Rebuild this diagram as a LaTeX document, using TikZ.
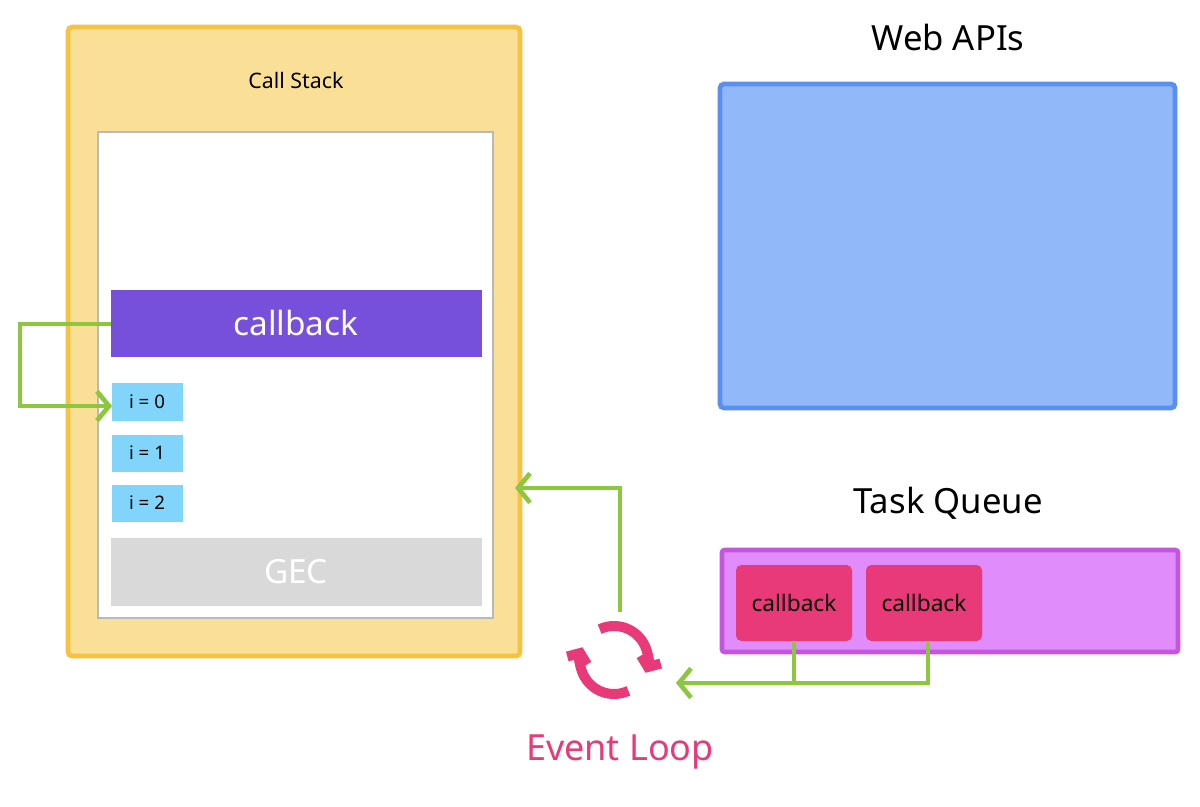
\documentclass[tikz,border=0pt]{standalone}
\usepackage{fontspec}
\setmainfont{Noto Sans}
\usetikzlibrary{arrows.meta}
\definecolor{csfill}{HTML}{FADF96}
\definecolor{csdraw}{HTML}{F5C242}
\definecolor{purp}{HTML}{7650DB}
\definecolor{lblue}{HTML}{81D4FA}
\definecolor{gecg}{HTML}{D9D9D9}
\definecolor{wfill}{HTML}{91B8F9}
\definecolor{wdraw}{HTML}{5A8FF0}
\definecolor{tfill}{HTML}{E08CFA}
\definecolor{tdraw}{HTML}{C455DE}
\definecolor{pink}{HTML}{E83A78}
\definecolor{grn}{HTML}{8DC63F}
\begin{document}
\begin{tikzpicture}[x=0.75pt,y=-0.75pt,
  box/.style={draw=none,inner sep=0,outer sep=0},
  ibox/.style={fill=lblue,font=\fontsize{14}{14}\selectfont},
  cb/.style={fill=pink,rounded corners=3pt,font=\fontsize{17}{17}\selectfont},
  conn/.style={draw=grn,line width=3.5pt},
  arr/.style={conn,-{Straight Barb[length=9pt,width=22pt,line width=3.5pt]}},
  loop/.style={draw=pink,line width=7.5pt,-{Straight Barb[length=6pt,width=16pt,line width=7.5pt]}}]
\useasboundingbox (0,0) rectangle (1200,807);
\fill[white] (0,0) rectangle (1200,807);
% call stack
\draw[fill=csfill,draw=csdraw,line width=3.5pt,rounded corners=3pt] (68,27) rectangle (520,656);
\node (cst) at (296,80) {\fontsize{16}{16}\selectfont Call Stack};
\draw[fill=white,draw=gray!55,line width=1.5pt] (98,132) rectangle (493,618);
\node (stk) at (493,488) {};
\fill[purp] (111,290) rectangle (482,357);
\node[text=white,font=\fontsize{25}{25}\selectfont] (cbk) at (296,323) {callback};
\coordinate (cbl) at (111,324);
\fill[lblue] (112,383) rectangle (183,421);
\node[font=\fontsize{14}{14}\selectfont] (i0) at (147,402) {i = 0};
\coordinate (i0l) at (112,406);
\fill[lblue] (112,435) rectangle (183,472);
\node[font=\fontsize{14}{14}\selectfont] (i1) at (147,453) {i = 1};
\fill[lblue] (112,485) rectangle (183,522);
\node[font=\fontsize{14}{14}\selectfont] (i2) at (147,503) {i = 2};
\fill[gecg] (111,538) rectangle (482,606);
\node[text=white,font=\fontsize{25}{25}\selectfont] (gec) at (296,572) {GEC};
% web apis
\node[font=\fontsize{26}{26}\selectfont] (wt) at (948,37) {Web APIs};
\draw[fill=wfill,draw=wdraw,line width=3.5pt,rounded corners=3pt] (720,84) rectangle (1175,408);
% task queue
\node[font=\fontsize{26}{26}\selectfont] (tt) at (948,503) {Task Queue};
\draw[fill=tfill,draw=tdraw,line width=3.5pt,rounded corners=2pt] (722,550) rectangle (1178,652);
\fill[pink,rounded corners=4pt] (736,565) rectangle (852,641);
\node[font=\fontsize{17}{17}\selectfont] (c1) at (794,603) {callback};
\fill[pink,rounded corners=4pt] (866,565) rectangle (982,641);
\node[font=\fontsize{17}{17}\selectfont] (c2) at (924,603) {callback};
% connectors
\coordinate (c1b) at (794,641);
\coordinate (c2b) at (928,641);
\coordinate (elr) at (676,683);
\coordinate (elt) at (620,612);
\coordinate (csr) at (515,488);
\draw[arr] (cbl) -- (20,324) -- (20,406) -- (i0l);
\draw[conn] (c1b) -- (794,683);
\draw[arr] (c2b) -- (928,683) -- (elr);
\draw[arr] (elt) -- (620,488) -- (csr);
% event loop icon
\draw[loop] ([shift={(-115:34)}]614,660) arc[start angle=-115,end angle=22,radius=34];
\draw[loop] ([shift={(65:34)}]614,660) arc[start angle=65,end angle=202,radius=34];
\node[text=pink,font=\fontsize{27}{27}\selectfont] (el) at (620,752) {Event Loop};
\end{tikzpicture}
\end{document}
